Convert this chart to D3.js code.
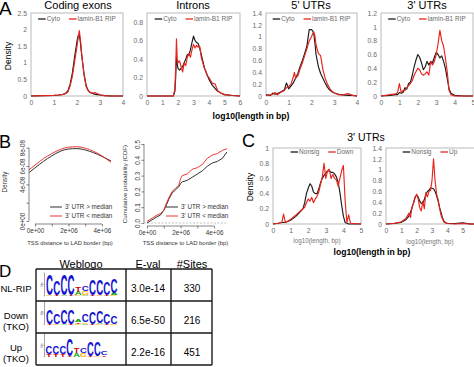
<!DOCTYPE html>
<html lang="en">
<head>
<meta charset="UTF-8">
<title>Length distributions</title>
<script src="https://d3js.org/d3.v7.min.js"></script>
<style>
  body { margin: 0; background: #fff; }
  svg { display: block; }
</style>
</head>
<body>
<script>
// ---- A: length densities (log10 bp) ----
const cdsX = [0,0.5,1,1.2,1.4,1.5,1.6,1.7,1.8,1.9,2.0,2.05,2.1,2.15,2.2,2.3,2.4,2.5,2.6,2.7,2.8,2.9,3.0,3.2,3.5,4.0];
const cdsCyto = [0,0.01,0.02,0.03,0.05,0.08,0.15,0.35,0.7,1.2,1.65,1.82,1.85,1.6,1.25,0.7,0.3,0.15,0.1,0.07,0.05,0.04,0.03,0.01,0,0];
const cdsRip = [0,0.01,0.02,0.03,0.05,0.07,0.12,0.3,0.6,1.05,1.5,1.75,1.97,1.7,1.3,0.65,0.28,0.14,0.1,0.09,0.1,0.07,0.03,0.01,0,0];

const intX = [0,1,1.7,1.8,1.85,1.9,1.95,2.0,2.1,2.2,2.3,2.4,2.5,2.6,2.7,2.8,2.9,3.0,3.1,3.2,3.3,3.4,3.5,3.6,3.7,3.8,3.9,4.0,4.2,4.4,4.5,4.6,4.8,5.0,5.5,6.0];
const intCyto = [0,0,0,0.05,0.2,0.42,0.35,0.3,0.28,0.3,0.32,0.36,0.4,0.45,0.44,0.5,0.58,0.65,0.6,0.58,0.57,0.52,0.45,0.38,0.31,0.26,0.22,0.18,0.12,0.08,0.06,0.05,0.03,0.015,0.005,0];
const intRip = [0,0,0,0.08,0.3,0.62,0.4,0.36,0.38,0.32,0.26,0.36,0.33,0.42,0.46,0.42,0.5,0.56,0.52,0.55,0.53,0.54,0.42,0.36,0.3,0.27,0.22,0.2,0.14,0.13,0.08,0.05,0.03,0.015,0.005,0];

const utr5X = [0,0.2,0.3,0.4,0.5,0.6,0.7,0.8,0.9,1.0,1.1,1.2,1.25,1.3,1.4,1.5,1.6,1.7,1.8,1.9,2.0,2.05,2.1,2.15,2.2,2.3,2.4,2.5,2.6,2.7,2.8,2.9,3.0,3.2,3.4,3.6,3.8,4.0];
const utr5Cyto = [0.02,0.01,0.05,0.03,0.04,0.06,0.08,0.1,0.22,0.12,0.17,0.22,0.26,0.3,0.38,0.5,0.6,0.72,0.85,1.12,1.12,1.1,1.05,0.9,0.7,0.5,0.38,0.3,0.22,0.15,0.1,0.07,0.05,0.03,0.02,0.01,0.01,0];
const utr5Rip = [0.01,0.02,0.03,0.06,0.02,0.05,0.07,0.09,0.14,0.16,0.2,0.32,0.4,0.3,0.34,0.46,0.56,0.68,0.8,0.93,1.0,1.05,1.08,1.02,0.86,0.72,0.68,0.45,0.3,0.2,0.13,0.08,0.05,0.02,0.02,0.04,0.01,0];

const utr3X = [0,0.5,0.8,0.9,1.0,1.1,1.2,1.3,1.4,1.5,1.6,1.7,1.8,1.9,2.0,2.1,2.2,2.3,2.4,2.5,2.6,2.7,2.8,2.9,3.0,3.1,3.2,3.3,3.4,3.5,3.6,3.7,3.8,4.0,4.5,5.0];
const utr3Cyto = [0,0.01,0.02,0.02,0.05,0.04,0.05,0.12,0.1,0.18,0.2,0.3,0.42,0.52,0.6,0.56,0.48,0.38,0.42,0.5,0.45,0.5,0.48,0.56,0.63,0.6,0.55,0.58,0.5,0.4,0.25,0.1,0.04,0.01,0,0];
const utr3Rip = [0,0.02,0.03,0.05,0.18,0.05,0.08,0.08,0.12,0.15,0.18,0.22,0.3,0.35,0.4,0.38,0.32,0.3,0.32,0.35,0.3,0.5,0.45,0.5,0.6,0.75,0.95,0.8,0.72,0.55,0.35,0.08,0.02,0,0,0];

// ---- B: TSS distance to LAD border ----
const b1X = [-0.35e6,0,0.5e6,1e6,1.5e6,2e6,2.5e6,3e6,3.5e6,4e6,4.54e6];
const b1Long = [5.3e-8,5.8e-8,6.5e-8,7.1e-8,7.6e-8,7.85e-8,7.9e-8,7.75e-8,7.45e-8,7.05e-8,6.55e-8];
const b1Short = [5.6e-8,6.1e-8,6.8e-8,7.35e-8,7.8e-8,8.05e-8,8.1e-8,7.95e-8,7.6e-8,7.1e-8,6.4e-8];
const b2X = [0,0.3e6,0.6e6,0.8e6,1.0e6,1.1e6,1.3e6,1.5e6,1.7e6,1.9e6,2.0e6,2.1e6,2.4e6,2.7e6,3.0e6,3.3e6,3.6e6,3.9e6,4.2e6,4.5e6,4.77e6];
const b2Long = [0,0.02,0.04,0.05,0.08,0.1,0.15,0.19,0.21,0.23,0.25,0.26,0.27,0.29,0.31,0.33,0.36,0.38,0.39,0.41,0.45];
const b2Short = [0.01,0.03,0.05,0.06,0.08,0.11,0.16,0.2,0.22,0.24,0.28,0.3,0.31,0.34,0.35,0.37,0.41,0.43,0.44,0.46,0.47];
const bLabels = ["3' UTR > median", "3' UTR < median"];

// ---- C: 3' UTR lengths in TKO ----
const c1X = [0,0.3,0.5,0.6,0.7,1.0,1.3,1.5,1.7,1.8,1.9,2.0,2.1,2.2,2.3,2.4,2.5,2.6,2.7,2.8,2.9,3.0,3.1,3.2,3.3,3.4,3.5,3.6,3.7,3.8,3.9,4.0,4.1,4.2,4.3,4.4,5.0];
const c1Nonsig = [0,0.01,0.02,0.02,0.02,0.05,0.1,0.15,0.2,0.28,0.4,0.47,0.53,0.5,0.42,0.4,0.4,0.46,0.54,0.6,0.64,0.67,0.7,0.7,0.68,0.68,0.66,0.62,0.55,0.42,0.25,0.1,0.02,0.01,0,0,0];
const c1Down = [0,0.01,0.02,0.13,0.02,0.06,0.12,0.16,0.2,0.22,0.28,0.33,0.3,0.35,0.28,0.33,0.36,0.42,0.52,0.62,0.8,0.6,0.7,0.72,0.6,0.65,0.6,0.58,0.5,0.6,0.7,0.77,0.3,0.02,0.12,0.01,0];
const c2X = [0,0.5,1.0,1.3,1.5,1.6,1.7,1.8,1.9,2.0,2.1,2.2,2.3,2.4,2.5,2.6,2.7,2.8,2.9,3.0,3.1,3.2,3.3,3.4,3.5,3.6,3.7,3.8,4.0,4.5,5.0,5.5,6.0];
const c2Nonsig = [0,0.01,0.03,0.08,0.15,0.22,0.3,0.4,0.5,0.53,0.5,0.42,0.38,0.38,0.45,0.55,0.6,0.62,0.66,0.66,0.65,0.6,0.52,0.42,0.3,0.2,0.1,0.04,0.01,0.01,0.02,0,0];
const c2Up = [0,0.01,0.04,0.1,0.2,0.12,0.32,0.38,0.48,0.55,0.46,0.3,0.24,0.42,0.28,0.58,0.5,0.6,0.62,0.8,1.2,0.8,0.55,0.45,0.28,0.15,0.08,0.03,0.01,0,0.01,0,0];

// ---- D: motif table ----
const motifRows = [["NL-RIP"], ["Down", "(TKO)"], ["Up", "(TKO)"]];
const motifEval = ["3.0e-14", "6.5e-50", "2.2e-16"];
const motifSites = ["330", "216", "451"];
const logoNL = [
  [['G',0.05],['C',1.9]], [['T',0.06],['C',1.3]], [['A',0.05],['C',1.9]], [['T',0.05],['C',1.9]],
  [['G',0.05],['A',0.3],['T',0.45]], [['A',0.05],['G',0.35],['C',0.45]], [['T',0.06],['C',1.4]],
  [['G',0.05],['C',1.4]], [['T',0.06],['C',1.2]], [['G',0.05],['A',0.2],['C',1.3]]
];
const logoDown = [
  [['T',0.06],['C',1.3]], [['G',0.06],['C',0.9]], [['A',0.05],['C',1.3]], [['T',0.05],['C',1.3]],
  [['G',0.08],['T',0.1],['A',0.18]], [['A',0.08],['G',0.1],['C',0.7]], [['T',0.06],['C',1.0]],
  [['G',0.06],['A',0.1],['C',1.0]], [['T',0.06],['C',0.9]], [['G',0.05],['C',0.7]]
];
const logoUp = [
  [['T',0.25],['C',0.7]], [['T',0.25],['C',0.7]], [['T',0.25],['C',0.7]], [['T',0.05],['C',1.55]],
  [['A',0.35],['T',0.5]], [['G',0.35],['C',0.45]], [['T',0.05],['C',1.25]], [['G',0.05],['C',1.25]],
  [['T',0.15],['C',0.35]]
];

const FONT = '"Liberation Sans", Arial, sans-serif';
const RED = '#e8231c', BLK = '#1a1a1a';
const svg = d3.select('body').append('svg').attr('width', 474).attr('height', 367)
  .style('font-family', FONT);

function txt(x, y, s, size, opts = {}) {
  const t = svg.append('text').attr('x', x).attr('y', y).attr('font-size', size)
    .attr('text-anchor', opts.anchor || 'middle').attr('fill', opts.fill || '#000').text(s);
  if (opts.bold) t.attr('font-weight', 'bold');
  if (opts.rot) t.attr('transform', `rotate(-90,${x},${y})`);
  return t;
}

// Excel-style density panel
function densityPanel(o) {
  const x = d3.scaleLinear().domain(o.xDomain).range([o.left, o.right]);
  const y = d3.scaleLinear().domain(o.yDomain).range([o.bottom, o.top]);
  const g = svg.append('g');
  g.append('rect').attr('x', o.left).attr('y', o.top)
    .attr('width', o.right - o.left).attr('height', o.bottom - o.top)
    .attr('fill', 'none').attr('stroke', '#a8a8a8').attr('stroke-width', 0.8);

  const styleAxis = s => {
    s.select('.domain').remove();
    s.attr('font-size', 6.8).attr('font-family', FONT);
    s.selectAll('text').attr('fill', '#6a6a6a');
  };
  g.append('g').attr('transform', `translate(${o.left},0)`)
    .call(d3.axisLeft(y).tickValues(o.yTicks).tickSize(0).tickPadding(4).tickFormat(d => d))
    .call(styleAxis);
  g.append('g').attr('transform', `translate(0,${o.bottom})`)
    .call(d3.axisBottom(x).tickValues(o.xTicks).tickSize(0).tickPadding(4.5).tickFormat(d => d))
    .call(styleAxis);

  const line = d3.line().x(d => x(d[0])).y(d => y(d[1]));
  o.series.forEach(s => {
    g.append('path').datum(o.xs.map((v, i) => [v, s.values[i]]))
      .attr('d', line).attr('fill', 'none').attr('stroke', s.color)
      .attr('stroke-width', 1.15).attr('stroke-linejoin', 'round');
  });

  const lg = g.append('g');
  let cx = 0;
  o.series.forEach(s => {
    lg.append('line').attr('x1', cx).attr('x2', cx + 7.5).attr('y1', 0).attr('y2', 0)
      .attr('stroke', s.color).attr('stroke-width', 1.3);
    const t = lg.append('text').attr('x', cx + 8.5).attr('y', 2.3).attr('font-size', 6.5)
      .attr('fill', '#6a6a6a').text(s.label);
    cx += 8.5 + t.node().getComputedTextLength() + 9;
  });
  lg.attr('transform', `translate(${(o.left + o.right) / 2 - (cx - 9) / 2 + (o.legendShift || 0)},${o.legendY})`);
  if (o.xTitle) txt((o.left + o.right) / 2, o.bottom + 19, o.xTitle, 6.3, { fill: '#777' });
}

// ---- Panel A ----
txt(-1, 15, 'A', 19, { anchor: 'start' });
txt(78, 9, 'Coding exons', 11);
txt(193, 9, 'Introns', 11);
txt(311, 9, "5' UTRs", 11);
txt(427, 9, "3' UTRs", 11);
txt(11, 56, 'Density', 8.5, { rot: true });
txt(251, 119, 'log10(length in bp)', 8.6, { bold: true });

const aTop = 13, aBot = 96;
densityPanel({ left: 31, right: 123, top: aTop, bottom: aBot, xDomain: [0, 4], yDomain: [0, 2.5],
  xTicks: [0, 1, 2, 3, 4], yTicks: [0, 0.5, 1, 1.5, 2, 2.5], xs: cdsX, legendY: 19,
  series: [{ values: cdsCyto, color: BLK, label: 'Cyto' }, { values: cdsRip, color: RED, label: 'lamin-B1 RIP' }] });
densityPanel({ left: 147, right: 240, top: aTop, bottom: aBot, xDomain: [0, 6], yDomain: [0, 0.9],
  xTicks: [0, 1, 2, 3, 4, 5, 6], yTicks: [0, 0.2, 0.4, 0.6, 0.8], xs: intX, legendY: 19,
  series: [{ values: intCyto, color: BLK, label: 'Cyto' }, { values: intRip, color: RED, label: 'lamin-B1 RIP' }] });
densityPanel({ left: 266, right: 357, top: aTop, bottom: aBot, xDomain: [0, 4], yDomain: [0, 1.4],
  xTicks: [0, 1, 2, 3, 4], yTicks: [0, 0.2, 0.4, 0.6, 0.8, 1, 1.2, 1.4], xs: utr5X, legendY: 19,
  series: [{ values: utr5Cyto, color: BLK, label: 'Cyto' }, { values: utr5Rip, color: RED, label: 'lamin-B1 RIP' }] });
densityPanel({ left: 381, right: 473, top: aTop, bottom: aBot, xDomain: [0, 5], yDomain: [0, 1.2],
  xTicks: [0, 1, 2, 3, 4, 5], yTicks: [0, 0.2, 0.4, 0.6, 0.8, 1, 1.2], xs: utr3X, legendY: 19,
  series: [{ values: utr3Cyto, color: BLK, label: 'Cyto' }, { values: utr3Rip, color: RED, label: 'lamin-B1 RIP' }] });

// ---- Panel B (R-style plots) ----
txt(-1, 148, 'B', 18, { anchor: 'start' });

function rExp(d) {
  const [m, e] = d.toExponential(0).split('e');
  const sign = e[0] === '-' ? '-' : '+';
  const mag = e.replace(/[+-]/, '').padStart(2, '0');
  return `${m}e${sign}${mag}`;
}

function rPanel(o) {
  const x = d3.scaleLinear().domain(o.xDomain).range([o.left, o.right]);
  const y = d3.scaleLinear().domain(o.yDomain).range([o.y0, o.top]);
  const g = svg.append('g');
  const styleAxis = s => {
    s.attr('font-size', 6.3).attr('font-family', FONT);
    s.selectAll('path,line').attr('stroke', '#333').attr('stroke-width', 0.6);
    s.selectAll('text').attr('fill', '#333');
  };
  g.append('g').attr('transform', `translate(${o.left},0)`)
    .call(d3.axisLeft(y).tickValues(o.yTicks).tickSize(2.5).tickSizeOuter(0).tickFormat(o.yFmt))
    .call(styleAxis)
    .call(s => s.select('.domain').attr('d', `M0,${y(o.yTicks[0])}V${y(o.yTicks[o.yTicks.length - 1])}`))
    .call(s => s.selectAll('text').attr('x', 0).attr('dy', 0).attr('text-anchor', 'middle')
      .attr('transform', 'translate(-4.2,0) rotate(-90)'));
  g.append('g').attr('transform', `translate(0,${o.axisY})`)
    .call(d3.axisBottom(x).tickValues(o.xTicks).tickSize(2.5).tickSizeOuter(0).tickFormat(o.xFmt))
    .call(styleAxis)
    .call(s => s.select('.domain').attr('d', `M${x(o.xTicks[0])},0H${x(o.xTicks[o.xTicks.length - 1])}`))
    .call(s => s.selectAll('text').attr('y', 4.5));
  if (o.dashZero) {
    g.append('line').attr('x1', o.left).attr('x2', o.right).attr('y1', y(0)).attr('y2', y(0))
      .attr('stroke', '#aaa').attr('stroke-width', 0.7).attr('stroke-dasharray', '2,1.5');
  }
  const clipId = 'clip' + Math.round(o.left);
  g.append('clipPath').attr('id', clipId).append('rect')
    .attr('x', o.left).attr('y', o.top - 4).attr('width', o.right - o.left).attr('height', o.axisY - o.top + 4);
  const line = d3.line().x(d => x(d[0])).y(d => y(d[1]));
  if (o.curve) line.curve(o.curve);
  o.series.forEach(s => {
    g.append('path').datum(o.xs.map((v, i) => [v, s.values[i]])).attr('clip-path', `url(#${clipId})`)
      .attr('d', line).attr('fill', 'none').attr('stroke', s.color).attr('stroke-width', 0.9);
  });
  o.series.forEach((s, i) => {
    const ly = o.legendY + i * 9;
    g.append('line').attr('x1', o.legendX).attr('x2', o.legendX + 12).attr('y1', ly).attr('y2', ly)
      .attr('stroke', s.color).attr('stroke-width', 0.9);
    g.append('text').attr('x', o.legendX + 15).attr('y', ly + 2.2).attr('font-size', 6.3)
      .attr('fill', '#333').text(s.label);
  });
  txt((o.left + o.right) / 2, 244.5, 'TSS distance to LAD border (bp)', 5.9, { fill: '#333' });
}

rPanel({ left: 29, right: 111, top: 144, y0: 221, axisY: 224, xDomain: [-0.36e6, 4.54e6], yDomain: [0, 8.4e-8],
  xTicks: [0, 1e6, 2e6, 3e6, 4e6], yTicks: [0, 2e-8, 4e-8, 6e-8, 8e-8],
  xFmt: d => (d / 1e6) % 2 === 0 ? rExp(d) : '', yFmt: d => d === 2e-8 ? '' : rExp(d),
  xs: b1X, curve: d3.curveMonotoneX, legendX: 50, legendY: 207,
  series: [{ values: b1Long, color: BLK, label: bLabels[0] }, { values: b1Short, color: RED, label: bLabels[1] }] });
txt(7, 182, 'Density', 6.3, { rot: true, fill: '#333' });

rPanel({ left: 144, right: 227, top: 144, y0: 223, axisY: 226, xDomain: [-0.18e6, 4.77e6], yDomain: [0, 0.5],
  xTicks: [0, 1e6, 2e6, 3e6, 4e6], yTicks: [0, 0.1, 0.2, 0.3, 0.4, 0.5],
  xFmt: d => (d / 1e6) % 2 === 0 ? rExp(d) : '', yFmt: d3.format('.1f'),
  xs: b2X, dashZero: true, legendX: 166, legendY: 207,
  series: [{ values: b2Long, color: BLK, label: bLabels[0] }, { values: b2Short, color: RED, label: bLabels[1] }] });
txt(127, 184, 'Cumulative probability (CDF)', 6.1, { rot: true, fill: '#333' });

// ---- Panel C ----
txt(242, 147, 'C', 18, { anchor: 'start' });
txt(366, 141, "3' UTRs", 10.5);
txt(253, 187, 'Density', 8.5, { rot: true });
txt(372, 255, 'log10(length in bp)', 8.6, { bold: true });
densityPanel({ left: 273, right: 361, top: 148, bottom: 224, xDomain: [0, 5], yDomain: [0, 1],
  xTicks: [0, 1, 2, 3, 4, 5], yTicks: [0, 0.2, 0.4, 0.6, 0.8, 1], xs: c1X, legendY: 152, legendShift: 5,
  xTitle: 'log10(length, bp)',
  series: [{ values: c1Nonsig, color: BLK, label: 'Nonsig' }, { values: c1Down, color: RED, label: 'Down' }] });
densityPanel({ left: 386, right: 478, top: 148, bottom: 224, xDomain: [0, 6], yDomain: [0, 1.4],
  xTicks: [0, 1, 2, 3, 4, 5], yTicks: [0, 0.2, 0.4, 0.6, 0.8, 1, 1.2, 1.4], xs: c2X, legendY: 152,
  legendShift: -2,
  series: [{ values: c2Nonsig, color: BLK, label: 'Nonsig' }, { values: c2Up, color: RED, label: 'Up' }] });
txt(430, 244, 'log10(length, bp)', 6.3, { fill: '#777' });

// ---- Panel D: motif table ----
txt(-1, 277, 'D', 17, { anchor: 'start' });
const colX = [36, 126, 171, 212];
const rowY = [269, 301, 333, 365];
txt(81, 268, 'Weblogo', 11);
txt(148, 268, 'E-val', 11);
txt(192, 268, '#Sites', 11);

const tbl = svg.append('g').attr('stroke', '#1a1a1a').attr('stroke-width', 1.4);
colX.forEach(cx => tbl.append('line').attr('x1', cx).attr('x2', cx).attr('y1', rowY[0]).attr('y2', rowY[3]));
rowY.forEach(ry => tbl.append('line').attr('x1', colX[0]).attr('x2', colX[3]).attr('y1', ry).attr('y2', ry));

motifRows.forEach((lines, i) => {
  const mid = (rowY[i] + rowY[i + 1]) / 2 + 3;
  if (lines.length === 1) txt(16, mid + 3.5, lines[0], 9.5);
  else lines.forEach((l, j) => txt(16, mid - 1.5 + j * 11, l, 9.5));
  txt(148, mid + 4, motifEval[i], 10);
  txt(192, mid + 4, motifSites[i], 10);
});

const letterColor = { A: '#00a000', C: '#1414d0', G: '#ffb000', T: '#d40000' };
const bitPx = d3.scaleLinear().domain([0, 2]).range([0, 23]);
function drawLogo(stacks, base, x0, step) {
  const xb = d3.scaleBand().domain(d3.range(stacks.length)).range([x0, x0 + step * stacks.length]);
  const g = svg.append('g');
  g.append('line').attr('x1', 44.5).attr('x2', 44.5).attr('y1', base).attr('y2', base - bitPx(2))
    .attr('stroke', '#444').attr('stroke-width', 0.5);
  [0, 1, 2].forEach(b => g.append('line').attr('x1', 43.5).attr('x2', 44.5)
    .attr('y1', base - bitPx(b)).attr('y2', base - bitPx(b)).attr('stroke', '#444').attr('stroke-width', 0.4));
  g.append('text').attr('font-size', 2.6).attr('fill', '#444').attr('text-anchor', 'middle')
    .attr('transform', `translate(42.5,${base - bitPx(1)}) rotate(-90)`).text('bits');
  stacks.forEach((stack, i) => {
    let yb = base;
    const cx = xb(i) + xb.bandwidth() / 2;
    stack.forEach(([letter, bits]) => {
      const h = bitPx(bits);
      g.append('text').attr('font-size', 10).attr('font-weight', 'bold').attr('text-anchor', 'middle')
        .attr('fill', letterColor[letter])
        .attr('transform', `translate(${cx},${yb}) scale(${xb.bandwidth() / 7.4},${h / 7.3})`)
        .text(letter);
      yb -= h;
    });
  });
}
drawLogo(logoNL, 296, 46, 7.15);
drawLogo(logoDown, 324.5, 46, 7.15);
drawLogo(logoUp, 357, 45.5, 6.9);
</script>
</body>
</html>
